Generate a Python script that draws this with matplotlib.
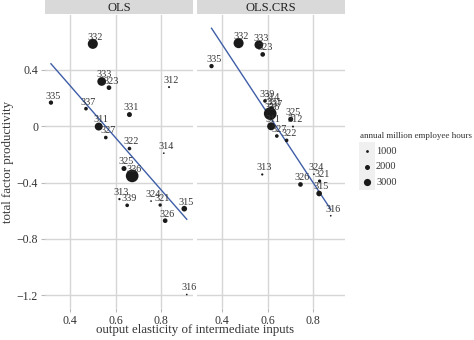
import numpy as np
import matplotlib
matplotlib.use("Agg")
import matplotlib.pyplot as plt

plt.rcParams["font.family"] = ["Liberation Serif", "DejaVu Serif"]

# industry codes and annual million employee hours (same in both panels)
codes = ["332", "333", "323", "312", "335", "337", "331", "311", "327", "322",
         "314", "325", "336", "313", "339", "324", "321", "315", "326", "316"]
hours = [4300, 3700, 1850, 650, 1700, 1400, 2000, 3350, 1400, 1400,
         500, 2000, 5500, 750, 1400, 500, 1250, 2300, 1850, 500]

# OLS panel
ols_x = [0.500, 0.539, 0.571, 0.835, 0.316, 0.470, 0.661, 0.526, 0.557, 0.661,
         0.812, 0.637, 0.673, 0.617, 0.651, 0.756, 0.796, 0.902, 0.818, 0.913]
ols_y = [0.585, 0.318, 0.274, 0.278, 0.168, 0.125, 0.083, -0.002, -0.080, -0.158,
         -0.191, -0.300, -0.352, -0.517, -0.561, -0.531, -0.559, -0.585, -0.670, -1.194]

# OLS.CRS panel
crs_x = [0.472, 0.561, 0.578, 0.711, 0.353, 0.622, 0.617, 0.615, 0.640, 0.683,
         0.612, 0.701, 0.611, 0.576, 0.588, 0.803, 0.828, 0.826, 0.744, 0.877]
crs_y = [0.590, 0.578, 0.510, -0.002, 0.427, 0.105, 0.125, 0.000, -0.069, -0.100,
         0.160, 0.050, 0.090, -0.342, 0.180, -0.340, -0.389, -0.477, -0.413, -0.635]

# fitted lines (intercept, slope)
fits = {"OLS": (1.028, -1.849), "OLS.CRS": (1.562, -2.454)}

legend_hours = [1000, 2000, 3000]


def size_of(v):
    d_px = 0.6 + 0.0022 * np.asarray(v, dtype=float)
    return (d_px * 0.72) ** 2


fig = plt.figure(figsize=(4.74, 3.40), dpi=100)
grid_c = "#d6d6d6"
panels = [("OLS", ols_x, ols_y, 0.095), ("OLS.CRS", crs_x, crs_y, 0.416)]
pw = 0.312
for i, (name, xs, ys, left) in enumerate(panels):
    ax = fig.add_axes([left, 0.094, pw, 0.862])
    ax.set_xlim(0.29, 0.94)
    ax.set_ylim(-1.29, 0.79)
    ax.set_xticks([0.4, 0.6, 0.8])
    ax.set_yticks([0.4, 0, -0.4, -0.8, -1.2])
    ax.set_xticklabels(["0.4", "0.6", "0.8"])
    ax.set_yticklabels(["0.4", "0", "\u22120.4", "\u22120.8", "\u22121.2"])
    ax.grid(True, color=grid_c, linewidth=1.0)
    ax.set_axisbelow(True)
    for sp in ax.spines.values():
        sp.set_visible(False)
    ax.tick_params(colors="#bbbbbb", labelcolor="#333333", labelsize=8.5,
                   length=3, width=0.8, pad=2)
    if i > 0:
        ax.tick_params(axis="y", left=False, labelleft=False)

    a, b = fits[name]
    xl = np.array([min(xs), max(xs)])
    ax.plot(xl, a + b * xl, color="#3f5ea8", linewidth=1.0, zorder=2)
    ax.scatter(xs, ys, s=size_of(hours), color="#1a1a1a", zorder=3, linewidths=0)
    for c, x, y in zip(codes, xs, ys):
        ax.annotate(c, (x, y), xytext=(1.5, 1.5), textcoords="offset points",
                    ha="center", va="bottom", fontsize=7.3, color="#333333", zorder=4)

    # facet strip
    fig.patches.append(plt.Rectangle((left, 0.958), pw, 0.042,
                                     transform=fig.transFigure, fc="#d9d9d9",
                                     ec="none"))
    fig.text(left + pw / 2, 0.977, name, ha="center", va="center",
             fontsize=9, color="#222222")

fig.text(0.017, 0.525, "total factor productivity", rotation=90, ha="center",
         va="center", fontsize=9.3, color="#333333")
fig.text(0.411, 0.03, "output elasticity of intermediate inputs", ha="center",
         va="center", fontsize=9.3, color="#333333")

# size legend
handles = [plt.scatter([], [], s=size_of(v), color="#1a1a1a", linewidths=0)
           for v in legend_hours]
leg = fig.legend(handles, [str(v) for v in legend_hours],
                 title="annual million employee hours", loc="upper left",
                 bbox_to_anchor=(0.745, 0.632), frameon=False, fontsize=7.5,
                 title_fontsize=6.5, handletextpad=0.3, labelspacing=0.6,
                 borderpad=0.2, handlelength=1.2)
leg._legend_box.align = "left"
for t in leg.get_texts():
    t.set_color("#333333")
leg.get_title().set_color("#333333")
fig.patches.append(plt.Rectangle((0.758, 0.44), 0.033, 0.143,
                                 transform=fig.transFigure, fc="#f0f0f0", ec="none",
                                 zorder=0))

fig.savefig("out.png", dpi=100, facecolor="white")
